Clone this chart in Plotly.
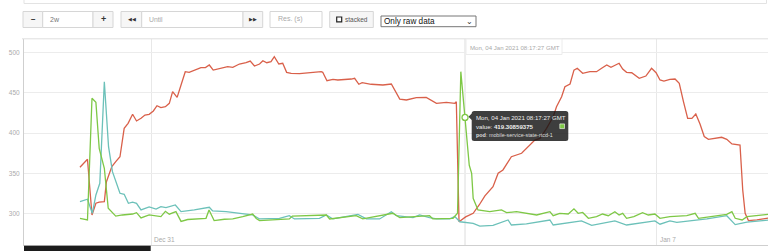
import pandas as pd
import plotly.graph_objects as go

# ---------------- data (hours from 2020-12-31 00:00 GMT) ----------------
BASE = "2020-12-31 00:00:00"

red_h = [-23.7, -21.2, -19.7, -18.4, -17.3, -15.6, -14.9, -13.1, -11.8, -10.4, -9.0, -7.7, -6.2, -4.9,
         -3.4, -2.1, -0.7, 0.7, 1.9, 3.2, 4.7, 6.0, 7.1, 8.6, 9.9, 11.3, 12.6, 14.3, 16.5, 18.0, 19.3,
         20.6, 23.2, 25.4, 27.1, 29.3, 31.5, 32.9, 34.3, 36.0, 37.1, 38.4, 39.8, 40.9, 42.4, 43.7, 45.0,
         46.5, 49.3, 52.6, 56.5, 57.0, 58.4, 60.4, 62.0, 66.5, 67.6, 69.0, 70.1, 73.1, 77.0, 79.8, 82.6,
         84.8, 88.1, 91.4, 94.8, 98.1, 100.9, 101.4, 102.3, 104.5, 107.0, 109.0, 110.9, 113.6, 115.3,
         116.9, 118.6, 119.7, 123.1, 125.3, 127.5, 129.2, 131.4, 133.6, 134.7, 136.4, 137.5, 139.2,
         140.5, 141.6, 143.4, 145.8, 148.0, 149.7, 151.4, 152.8, 155.5, 156.7, 158.0, 159.7, 162.2,
         164.4, 166.3, 167.8, 169.1, 170.4, 172.4, 174.1, 175.5, 176.9, 178.3, 179.7, 181.0, 182.4,
         183.8, 185.2, 187.4, 189.6, 191.3, 193.0, 195.7, 196.6, 197.4, 198.5, 201.3, 204.1, 205.7]
red_v = [357.5, 367.4, 298.4, 313.0, 314.2, 315.0, 339.7, 358.3, 364.5, 370.6, 405.8, 412.0, 423.2, 414.9,
         418.2, 422.3, 423.2, 427.3, 433.8, 431.4, 432.6, 436.8, 451.2, 444.2, 459.5, 476.0, 475.2, 478.0,
         481.0, 481.0, 484.3, 478.0, 480.2, 482.2, 481.4, 485.5, 487.1, 489.2, 483.0, 485.5, 489.6, 487.1,
         488.4, 494.6, 485.5, 486.4, 475.2, 474.0, 473.5, 474.7, 476.0, 475.2, 464.8, 466.5, 465.7, 466.9,
         467.8, 460.4, 462.3, 460.4, 459.5, 460.7, 442.1, 440.9, 443.8, 444.2, 436.8, 438.0, 436.8, 438.8,
         290.1, 296.0, 300.5, 310.8, 322.0, 333.5, 350.1, 354.2, 363.2, 370.6, 374.9, 383.0, 391.3, 393.4,
         405.8, 420.2, 432.6, 445.0, 457.4, 460.7, 478.0, 480.2, 474.0, 476.0, 476.0, 480.2, 484.3, 481.4,
         486.4, 479.3, 475.2, 474.7, 467.8, 470.6, 480.2, 474.7, 465.7, 464.4, 466.5, 466.9, 461.6, 438.8,
         418.2, 418.2, 423.6, 411.2, 395.6, 392.2, 393.4, 394.7, 392.2, 386.4, 385.1, 329.4, 300.5, 291.4,
         292.3, 294.3, 295.0]

green_h = [-23.7, -21.2, -19.7, -18.4, -17.3, -15.6, -14.3, -11.8, -9.6, -6.2, -4.9, -3.4, -0.7, 2.1, 3.2,
           4.7, 6.0, 8.2, 9.9, 12.1, 16.0, 18.2, 19.2, 20.9, 24.3, 27.1, 30.4, 33.7, 34.9, 36.0, 45.9, 46.9,
           58.2, 59.3, 68.1, 70.3, 80.3, 82.6, 92.5, 93.6, 100.3, 101.8, 102.9, 104.2, 105.7, 106.5, 107.0,
           108.6, 112.5, 116.4, 118.1, 121.4, 128.1, 132.5, 133.6, 135.8, 138.6, 140.5, 141.9, 143.4, 145.3,
           148.0, 150.0, 151.9, 154.1, 155.5, 156.7, 158.0, 160.4, 163.3, 165.2, 167.4, 169.1, 172.4, 178.0,
           180.8, 181.9, 191.3, 193.0, 194.1, 196.4, 198.0, 202.4, 205.7]
green_v = [294.3, 292.2, 443.0, 438.0, 381.0, 356.3, 306.7, 297.0, 298.4, 299.6, 301.3, 294.8, 298.4, 296.4,
           296.4, 303.0, 299.4, 302.5, 290.5, 292.8, 293.5, 294.3, 304.6, 291.4, 293.1, 293.5, 296.4, 299.6,
           294.0, 291.4, 293.5, 297.0, 298.4, 293.5, 297.5, 293.5, 300.5, 295.1, 297.5, 293.5, 294.3, 300.5,
           476.0, 419.30859375, 360.0, 350.0, 319.0, 304.6, 302.5, 304.6, 301.3, 302.5, 298.4, 302.5, 297.5,
           300.5, 299.6, 306.0, 300.5, 301.5, 294.3, 296.4, 299.6, 297.5, 302.5, 298.4, 300.5, 294.3, 296.4,
           301.3, 298.4, 299.6, 294.3, 296.4, 297.5, 300.5, 294.3, 299.2, 302.5, 294.3, 292.2, 296.4, 298.4,
           299.5]

teal_h = [-23.7, -21.2, -19.6, -18.4, -17.1, -15.6, -14.2, -12.9, -10.4, -9.0, -7.6, -6.2, -4.9, -3.4, -0.7,
          1.6, 3.2, 4.9, 8.0, 9.9, 14.3, 16.0, 19.3, 20.4, 24.9, 31.5, 33.7, 36.0, 42.6, 45.9, 47.6, 55.9,
          58.2, 60.4, 64.8, 68.7, 71.5, 75.9, 79.8, 81.5, 87.0, 89.2, 92.5, 94.8, 99.2, 100.9, 102.6, 104.8,
          107.0, 109.2, 113.6, 118.6, 119.7, 124.7, 132.5, 133.6, 138.1, 143.0, 146.4, 154.1, 158.0, 163.6,
          167.4, 169.1, 172.4, 174.7, 181.3, 184.7, 191.3, 193.0, 194.1, 198.0, 205.0]
teal_v = [315.0, 317.9, 300.5, 323.2, 337.7, 463.6, 383.0, 352.1, 325.3, 324.0, 312.9, 314.2, 312.9, 304.6,
          308.4, 305.8, 308.7, 307.5, 310.8, 302.5, 304.6, 305.8, 308.0, 303.4, 302.5, 299.6, 298.4, 293.5,
          294.3, 297.5, 293.5, 294.3, 298.4, 293.5, 296.4, 299.2, 293.5, 293.5, 302.5, 297.5, 295.1, 298.4,
          295.1, 293.5, 293.5, 296.4, 290.0, 289.3, 288.0, 284.5, 285.5, 292.2, 286.0, 287.3, 292.2, 286.0,
          288.0, 291.0, 285.5, 291.0, 286.0, 289.5, 291.0, 287.0, 291.0, 289.3, 292.2, 293.5, 297.5, 290.0,
          286.5, 289.5, 292.0]

Y_TICKS = [300, 350, 400, 450, 500]
X_TICKS = ["2020-12-31", "2021-01-07"]
X_TICK_LABELS = ["Dec 31", "Jan 7"]
X_RANGE_H = [-42.3, 205.0]
Y_RANGE = [261.2, 516.5]

HOVER_TIME = "2021-01-04 08:17:27"
HOVER_TEXT = "Mon, 04 Jan 2021 08:17:27 GMT"
HOVER_VALUE = 419.30859375
HOVER_POD = "mobile-service-state-rtcd-1"

RED, GREEN, TEAL = "#d9604a", "#7ec846", "#6cc1b9"
FONT = "Liberation Sans, Arial, sans-serif"


def t(hours):
    return pd.Timestamp(BASE) + pd.to_timedelta(pd.Series(hours, dtype=float), unit="h")


# ---------------- figure ----------------
W, H = 768, 251
L, R, T, B = 24, 0, 39, 6
PW, PH = W - L - R, H - T - B


def PX(x):
    return (x - L) / PW


def PY(y):
    return (H - B - y) / PH


fig = go.Figure()
for hs, vs, c in [(red_h, red_v, RED), (teal_h, teal_v, TEAL), (green_h, green_v, GREEN)]:
    fig.add_trace(go.Scatter(x=t(hs), y=vs, mode="lines", line=dict(color=c, width=1.3),
                             hoverinfo="skip", showlegend=False))

fig.add_trace(go.Scatter(x=[pd.Timestamp(HOVER_TIME)], y=[HOVER_VALUE], mode="markers",
                         marker=dict(size=6, color="white", line=dict(color=GREEN, width=1.3)),
                         hoverinfo="skip", showlegend=False, cliponaxis=False))

shapes = []
ann = []


def box(x0, y0, x1, y1, fill="white", line="#d6d6d6", lw=1):
    shapes.append(dict(type="rect", xref="paper", yref="paper", x0=PX(x0), x1=PX(x1),
                       y0=PY(y1), y1=PY(y0), fillcolor=fill, line=dict(color=line, width=lw), layer="above"))


def text(x, y, s, size=6.5, color="#999", anchor="left", **kw):
    ann.append(dict(xref="paper", yref="paper", x=PX(x), y=PY(y), text=s, showarrow=False,
                    xanchor=anchor, yanchor="middle", font=dict(family=FONT, size=size, color=color),
                    borderpad=0, **kw))


# expression box bottom (above toolbar)
shapes.append(dict(type="path", xref="paper", yref="paper",
                   path=f"M {PX(24)},{PY(-2)} L {PX(24)},{PY(3.5)} L {PX(766.5)},{PY(3.5)} L {PX(766.5)},{PY(-2)}",
                   line=dict(color="#e3e3e3", width=1)))

# toolbar
box(23, 11.5, 42.7, 27.5, fill="#f6f6f6")
box(42.7, 11.5, 93, 27.5)
box(93, 11.5, 113, 27.5, fill="#f6f6f6")
text(33, 19.5, "<b>−</b>", size=8, color="#333", anchor="center")
text(49, 19.5, "2w", size=7, color="#777")
text(103, 19.5, "<b>+</b>", size=9, color="#333", anchor="center")

box(121, 11.5, 141.7, 27.5, fill="#f6f6f6")
box(141.7, 11.5, 243, 27.5)
box(243, 11.5, 262.7, 27.5, fill="#f6f6f6")
text(131.5, 19.5, "◀◀", size=4.5, color="#333", anchor="center")
text(148, 19.5, "Until", size=6.8, color="#aaa")
text(252.5, 19.5, "▶▶", size=4.5, color="#333", anchor="center")

box(270, 11.5, 322, 27.5)
text(276.5, 19.5, "Res. (s)", size=7, color="#aaa")

box(329.7, 11.5, 373.3, 27.5, fill="#f6f6f6")
shapes.append(dict(type="rect", xref="paper", yref="paper", x0=PX(336.7), x1=PX(341.7),
                   y0=PY(21.8), y1=PY(17), line=dict(color="#222", width=1.2), fillcolor="white"))
text(343.5, 19.3, "stacked", size=6.5, color="#555")

box(381, 16, 476, 26.7, fill="white", line="#777")
text(383, 21.8, "Only raw data", size=8.2, color="#111")
text(469.5, 21, "⌄", size=8, color="#333", anchor="center")

# graph top border
shapes.append(dict(type="line", xref="paper", yref="paper", x0=PX(22), x1=PX(768), y0=PY(38.8),
                   y1=PY(38.8), line=dict(color="#dedede", width=1)))

# x tick labels
for xv, lab in zip(X_TICKS, X_TICK_LABELS):
    ann.append(dict(xref="x", yref="paper", x=xv, y=PY(239.3), text=lab, showarrow=False,
                    xanchor="left", yanchor="middle", xshift=1,
                    font=dict(family=FONT, size=6.5, color="#aaa")))

# crosshair
shapes.append(dict(type="line", xref="x", yref="paper", x0=HOVER_TIME, x1=HOVER_TIME, y0=0, y1=1,
                   line=dict(color="#dcdcdc", width=1), layer="below"))

# top time label
box(466, 39, 562, 54.5, fill="rgba(255,255,255,0.95)", line="#ececec")
text(468.5, 47.5, HOVER_TEXT, size=6.1, color="#aaa")

# tooltip
r = 2.5
x0, x1, y0, y1 = 471.7, 568.3, 111, 141
path = (f"M {PX(x0 + r)},{PY(y0)} L {PX(x1 - r)},{PY(y0)} Q {PX(x1)},{PY(y0)} {PX(x1)},{PY(y0 + r)} "
        f"L {PX(x1)},{PY(y1 - r)} Q {PX(x1)},{PY(y1)} {PX(x1 - r)},{PY(y1)} "
        f"L {PX(x0 + r)},{PY(y1)} Q {PX(x0)},{PY(y1)} {PX(x0)},{PY(y1 - r)} "
        f"L {PX(x0)},{PY(120)} L {PX(468.5)},{PY(116.7)} L {PX(x0)},{PY(113.5)} "
        f"L {PX(x0)},{PY(y0 + r)} Q {PX(x0)},{PY(y0)} {PX(x0 + r)},{PY(y0)} Z")
shapes.append(dict(type="path", xref="paper", yref="paper", path=path,
                   fillcolor="rgba(20,20,20,0.82)", line=dict(width=0), layer="above"))
text(475, 117.7, HOVER_TEXT, size=6.1, color="#eee")
text(475, 126.5, f"value: <b>{HOVER_VALUE}</b>", size=6.1, color="#eee")
text(475, 134.5, f"<b>pod</b>: {HOVER_POD}", size=5.4, color="#ddd")
shapes.append(dict(type="rect", xref="paper", yref="paper", x0=PX(559.8), x1=PX(564.5),
                   y0=PY(128.6), y1=PY(123.9), fillcolor=GREEN, line=dict(color="white", width=0.6),
                   layer="above"))

# bottom black bar
shapes.append(dict(type="rect", xref="paper", yref="paper", x0=PX(24), x1=PX(150.7), y0=PY(251.5),
                   y1=PY(245.8), fillcolor="#1c1c1c", line=dict(width=0)))

fig.update_layout(
    width=W, height=H, margin=dict(l=L, r=R, t=T, b=B, pad=0),
    paper_bgcolor="white", plot_bgcolor="white",
    font=dict(family=FONT),
    shapes=shapes, annotations=ann, showlegend=False,
    xaxis=dict(type="date", range=[t([X_RANGE_H[0]])[0], t([X_RANGE_H[1]])[0]],
               tickvals=X_TICKS, showticklabels=False, showgrid=True, gridcolor="#e8e8e8", gridwidth=1,
               zeroline=False, showline=True, linecolor="#cfcfcf", linewidth=1, ticks="", fixedrange=True),
    yaxis=dict(range=Y_RANGE, tickvals=Y_TICKS, showgrid=True, gridcolor="#ececec", gridwidth=1,
               zeroline=False, showline=True, linecolor="#cfcfcf", linewidth=1, ticks="",
               tickfont=dict(family=FONT, size=6.5, color="#aaa"), ticklabelstandoff=2, fixedrange=True),
)

fig.write_html("out.html")
